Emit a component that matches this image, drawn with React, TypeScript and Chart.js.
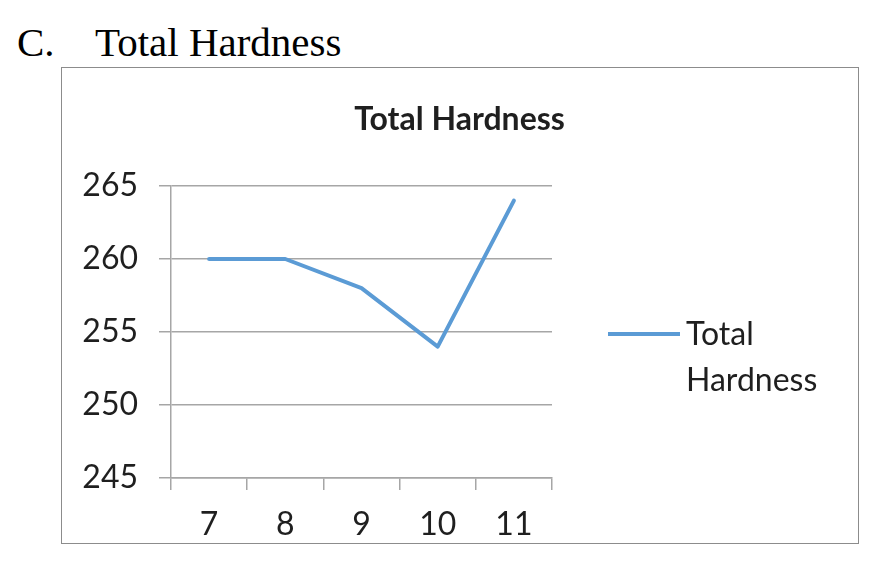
import React, { useEffect, useRef } from "react";
import { Chart, registerables } from "chart.js";

Chart.register(...registerables);

const pageHeading = "C.";
const pageHeadingText = "Total Hardness";
const chartTitle = "Total Hardness";
const seriesLabel = "Total Hardness";
const categories = ["7", "8", "9", "10", "11"];
const hardnessValues = [260, 260, 258, 254, 264];
const yMin = 245;
const yMax = 265;
const yStep = 5;

const LINE_COLOR = "#5B9BD5";
const GRID_COLOR = "#A6A6A6";
const TEXT_COLOR = "#1f1f1f";
const FONT = "Lato, 'Open Sans', sans-serif";

// chart frame (the bordered box) in page pixels
const BOX_LEFT = 61;
const BOX_TOP = 67;
const BOX_RIGHT = 858;
const BOX_BOTTOM = 543;

const titlePlugin = {
  id: "boxTitle",
  afterDraw(chart: any) {
    const { ctx } = chart;
    ctx.save();
    ctx.fillStyle = TEXT_COLOR;
    ctx.font = `bold 32px ${FONT}`;
    ctx.textAlign = "center";
    ctx.textBaseline = "alphabetic";
    ctx.fillText(chartTitle, (BOX_LEFT + BOX_RIGHT) / 2, 129.5);
    ctx.restore();
  },
};

const legendPlugin = {
  id: "wrappedLegend",
  afterDraw(chart: any) {
    const { ctx, chartArea } = chart;
    const ds = chart.data.datasets[0];
    const words: string[] = String(ds.label).split(" ");
    const x0 = chartArea.right + 56;
    const x1 = x0 + 72;
    const yc = 334;
    ctx.save();
    ctx.strokeStyle = ds.borderColor;
    ctx.lineWidth = 4;
    ctx.lineCap = "butt";
    ctx.beginPath();
    ctx.moveTo(x0, yc);
    ctx.lineTo(x1, yc);
    ctx.stroke();
    ctx.fillStyle = TEXT_COLOR;
    ctx.font = `32px ${FONT}`;
    ctx.textAlign = "left";
    ctx.textBaseline = "alphabetic";
    words.forEach((w, i) => {
      ctx.fillText(w, x1 + 6, 345 + i * 46);
    });
    ctx.restore();
  },
};

export default function App() {
  const canvasRef = useRef<HTMLCanvasElement | null>(null);

  useEffect(() => {
    if (!canvasRef.current) return;
    const chart = new Chart(canvasRef.current, {
      type: "line",
      data: {
        labels: categories,
        datasets: [
          {
            label: seriesLabel,
            data: hardnessValues,
            borderColor: LINE_COLOR,
            backgroundColor: LINE_COLOR,
            borderWidth: 4,
            tension: 0,
            pointRadius: 0,
            pointHoverRadius: 0,
            borderJoinStyle: "round",
            borderCapStyle: "round",
          },
        ],
      },
      options: {
        animation: false,
        responsive: false,
        maintainAspectRatio: false,
        devicePixelRatio: 1,
        layout: { padding: { left: BOX_LEFT, right: 328, top: 186, bottom: 572 - BOX_BOTTOM } },
        plugins: {
          legend: { display: false },
          tooltip: { enabled: false },
          title: { display: false },
        },
        scales: {
          x: {
            type: "category",
            offset: true,
            grid: {
              offset: true,
              drawOnChartArea: false,
              drawTicks: true,
              tickLength: 12,
              color: GRID_COLOR,
              lineWidth: 1.5,
            },
            border: { display: true, color: GRID_COLOR, width: 1.5 },
            ticks: {
              color: TEXT_COLOR,
              font: { family: FONT, size: 32, lineHeight: 1.2 },
              padding: 15,
              maxRotation: 0,
            },
            afterFit(scale: any) {
              scale.height = 65;
            },
          },
          y: {
            type: "linear",
            min: yMin,
            max: yMax,
            grid: {
              color: GRID_COLOR,
              lineWidth: 1.5,
              drawTicks: true,
              tickLength: 12,
            },
            border: { display: true, color: GRID_COLOR, width: 1.5 },
            ticks: {
              stepSize: yStep,
              color: TEXT_COLOR,
              font: { family: FONT, size: 32, lineHeight: 1.2 },
              padding: 21,
            },
            afterFit(scale: any) {
              scale.width = 110;
            },
          },
        },
      },
      plugins: [titlePlugin, legendPlugin],
    } as any);
    return () => chart.destroy();
  }, []);

  const serif = "'Liberation Serif', 'Times New Roman', serif";

  return (
    <div style={{ position: "absolute", left: 0, top: 0, width: 880, height: 572, background: "#fff" }}>
      <div
        style={{
          position: "absolute",
          left: 17,
          top: 22,
          fontFamily: serif,
          fontSize: 41,
          lineHeight: 1,
          color: "#000",
          whiteSpace: "nowrap",
        }}
      >
        {pageHeading}
      </div>
      <div
        style={{
          position: "absolute",
          left: 95,
          top: 22,
          fontFamily: serif,
          fontSize: 41,
          lineHeight: 1,
          color: "#000",
          whiteSpace: "nowrap",
        }}
      >
        {pageHeadingText}
      </div>
      <div
        style={{
          position: "absolute",
          left: BOX_LEFT,
          top: BOX_TOP,
          width: BOX_RIGHT - BOX_LEFT - 1,
          height: BOX_BOTTOM - BOX_TOP - 1,
          border: "1.5px solid #8C8C8C",
        }}
      />
      <canvas
        ref={canvasRef}
        width={880}
        height={572}
        style={{ position: "absolute", left: 0, top: 0, width: 880, height: 572 }}
      />
    </div>
  );
}
